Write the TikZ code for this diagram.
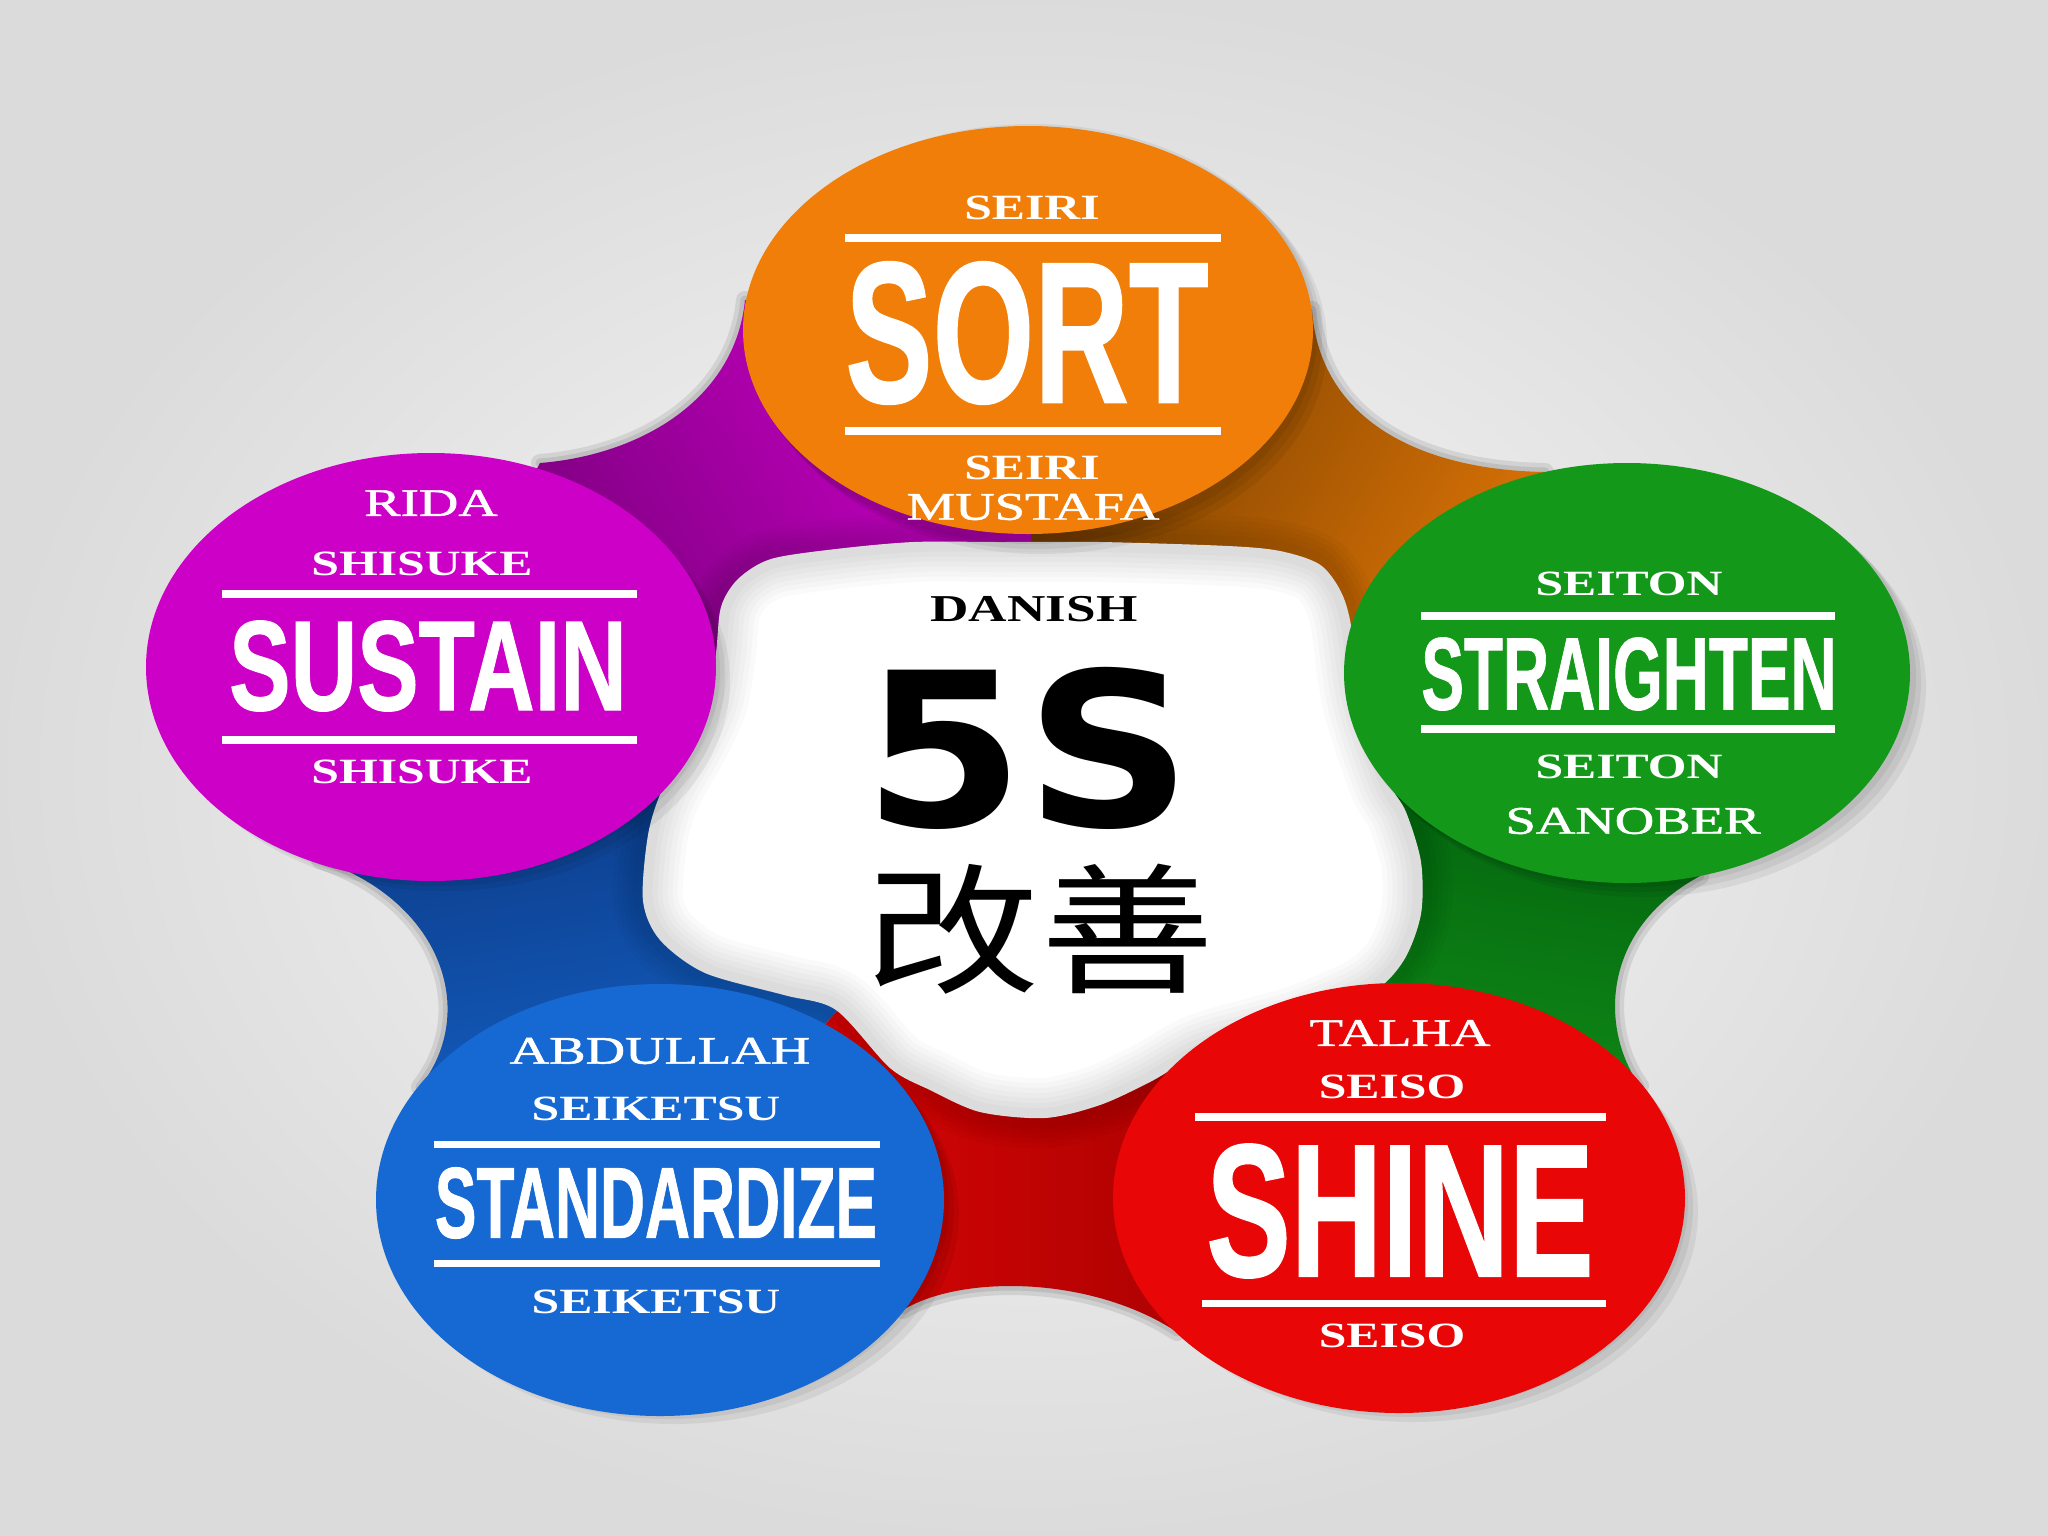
\documentclass[tikz,border=0pt]{standalone}
\usepackage{fontspec}
\newfontfamily\wordfont[FakeBold=1]{Liberation Sans}
\newfontfamily\slabfont{Liberation Serif}
\newfontfamily\namefont[FakeBold=1.2]{Liberation Serif}
\newfontfamily\numfont{DejaVu Sans}
\newfontfamily\cjkfont{Noto Sans CJK SC}

\definecolor{sortorange}{RGB}{240,126,8}
\definecolor{sustainpink}{RGB}{204,0,199}
\definecolor{straightgreen}{RGB}{20,152,26}
\definecolor{standardblue}{RGB}{22,104,210}
\definecolor{shinered}{RGB}{233,6,6}
\definecolor{purpledark}{RGB}{105,0,110}
\definecolor{orangedark}{RGB}{125,66,0}
\definecolor{greendark}{RGB}{0,90,12}
\definecolor{reddark}{RGB}{150,0,0}
\definecolor{bluedark}{RGB}{10,50,120}

\tikzset{
    bigword/.style={text=white, inner sep=0pt, font=\wordfont\bfseries\fontsize{#1}{#1}\selectfont},
    jpword/.style={text=white, inner sep=0pt, xscale=1.4, font=\slabfont\bfseries\fontsize{10.1pt}{10.1pt}\selectfont},
    person/.style={text=white, inner sep=0pt, xscale=1.4, font=\namefont\fontsize{11.1pt}{11.1pt}\selectfont},
    bar/.style={white, line width=2pt},
    dropshade/.style={black, opacity=.06},
    rim/.style={black, opacity=.09, line width=#1, line cap=round},
}

\begin{document}
\begin{tikzpicture}[x=0.01cm, y=-0.01cm]
        \useasboundingbox (0,0) rectangle (2048,1536);
        \shade [inner color=gray!4, outer color=gray!28] (0,0) rectangle (2048,1536);

        \coordinate (sort) at (1028,330);
        \coordinate (sustain) at (431,667);
        \coordinate (straighten) at (1627,673);
        \coordinate (standardize) at (660,1200);
        \coordinate (shine) at (1399,1198);
        \coordinate (hub) at (1035,800);

        % shadows along the cut edges
        \foreach \w in {0.18,0.09}{
            \draw [rim=\w cm] (540,463) .. controls (640,455) and (735,400) .. (745,300);
            \draw [rim=\w cm] (1312,310) .. controls (1320,420) and (1420,470) .. (1545,472);
            \draw [rim=\w cm] (1700,876) .. controls (1600,930) and (1600,1030) .. (1640,1086);
            \draw [rim=\w cm] (1177,1332) .. controls (1090,1275) and (960,1275) .. (903,1310);
            \draw [rim=\w cm] (420,1087) .. controls (480,1010) and (440,900) .. (320,860);
        }

        % bands
        \shade [top color=sustainpink, bottom color=purpledark, shading angle=-60]
            (sustain) -- (540,463) .. controls (640,455) and (735,400) .. (745,300) -- (sort) -- (hub) -- cycle;
        \shade [top color=sortorange, bottom color=orangedark, shading angle=-120]
            (sort) -- (1312,310) .. controls (1320,420) and (1420,470) .. (1545,472) -- (straighten) -- (hub) -- cycle;
        \shade [top color=straightgreen, bottom color=greendark, shading angle=170]
            (straighten) -- (1700,876) .. controls (1600,930) and (1600,1030) .. (1640,1086) -- (shine) -- (hub) -- cycle;
        \shade [top color=shinered, bottom color=reddark, shading angle=90]
            (shine) -- (1177,1332) .. controls (1090,1275) and (960,1275) .. (903,1310) -- (standardize) -- (hub) -- cycle;
        \shade [top color=standardblue, bottom color=bluedark, shading angle=-170]
            (standardize) -- (420,1087) .. controls (480,1010) and (440,900) .. (320,860) -- (sustain) -- (hub) -- cycle;

        % centre
        \def\blob{plot [smooth cycle, tension=.5] coordinates {(716,653) (721,607) (738,579) (771,559) (836,549) (914,542) (1000,542) (1100,542) (1228,546) (1280,551) (1319,564) (1339,588) (1350,620) (1362,700) (1388,780) (1406,812) (1421,862) (1421,914) (1404,960) (1372,993) (1300,1025) (1205,1052) (1150,1082) (1100,1105) (1045,1118) (980,1112) (930,1090) (890,1068) (836,1010) (784,995) (705,973) (660,940) (643,901) (648,835) (662,790) (690,740) (708,700)}}
        \foreach \w in {0.6,0.5,...,0.1}{
            \draw [black, opacity=.025, line width=\w cm] \blob;
        }
        \fill [white] \blob;
        \begin{scope}
            \clip \blob;
            \foreach \w in {0.8,0.7,...,0.1}{
                \draw [black, opacity=.018, line width=\w cm] \blob;
            }
        \end{scope}

        % discs
        \foreach \c in {sort,sustain,straighten,standardize,shine}{
            \foreach \d in {4,9,14}{
                \fill [dropshade] ([shift={(\d,\d)}]\c) ellipse [x radius=285, y radius=210];
            }
        }
        \fill [sortorange] (sort) ellipse [x radius=285, y radius=204];
        \fill [sustainpink] (sustain) ellipse [x radius=285, y radius=214];
        \fill [straightgreen] (straighten) ellipse [x radius=283, y radius=210];
        \fill [standardblue] (standardize) ellipse [x radius=284, y radius=216];
        \fill [shinered] (shine) ellipse [x radius=286, y radius=215];

        \foreach \xa/\xb/\yy in {845/1221/238,845/1221/431,222/637/594,222/637/740,1421/1835/616,1421/1835/729,434/880/1144,434/880/1263,1195/1606/1117,1202/1606/1303}{
            \draw [bar] (\xa,\yy) -- (\xb,\yy);
        }

        \node (seiri) at (1032,208) [jpword] {SEIRI};
        \node (sortw) at (1027,333) [bigword=57.2pt, xscale=.65] {SORT};
        \node (seirib) at (1032,468) [jpword] {SEIRI};
        \node (mustafa) at (1033,507) [person] {MUSTAFA};

        \node (rida) at (431,503) [person] {RIDA};
        \node (shisuke) at (422,564) [jpword] {SHISUKE};
        \node (sustainw) at (428,666) [bigword=36.4pt, xscale=.72] {SUSTAIN};
        \node (shisukeb) at (422,772) [jpword] {SHISUKE};

        \node (seiton) at (1629,584) [jpword] {SEITON};
        \node (straightenw) at (1629,674) [bigword=29.3pt, xscale=.62] {STRAIGHTEN};
        \node (seitonb) at (1629,767) [jpword] {SEITON};
        \node (sanober) at (1633,821) [person] {SANOBER};

        \node (abdullah) at (660,1051) [person] {ABDULLAH};
        \node (seiketsu) at (656,1109) [jpword] {SEIKETSU};
        \node (standardizew) at (656,1203) [bigword=28.6pt, xscale=.62] {STANDARDIZE};
        \node (seiketsub) at (656,1302) [jpword] {SEIKETSU};

        \node (talha) at (1400,1033) [person] {TALHA};
        \node (seiso) at (1392,1087) [jpword] {SEISO};
        \node (shinew) at (1400,1211) [bigword=53.8pt, xscale=.67] {SHINE};
        \node (seisob) at (1392,1336) [jpword] {SEISO};

        \node (danish) at (1034,609) [inner sep=0pt, xscale=1.4, font=\slabfont\bfseries\fontsize{10.8pt}{10.8pt}\selectfont] {DANISH};
        \node (fives) at (1028,748) [inner sep=0pt, xscale=1.08, font=\numfont\bfseries\fontsize{61pt}{61pt}\selectfont] {5S};
        \node (kaizen) at (1040,928) [inner sep=0pt, xscale=1.24, text height=33pt, text depth=2pt, font=\cjkfont\fontsize{40pt}{40pt}\selectfont] {改善};

        \end{tikzpicture}
\end{document}
